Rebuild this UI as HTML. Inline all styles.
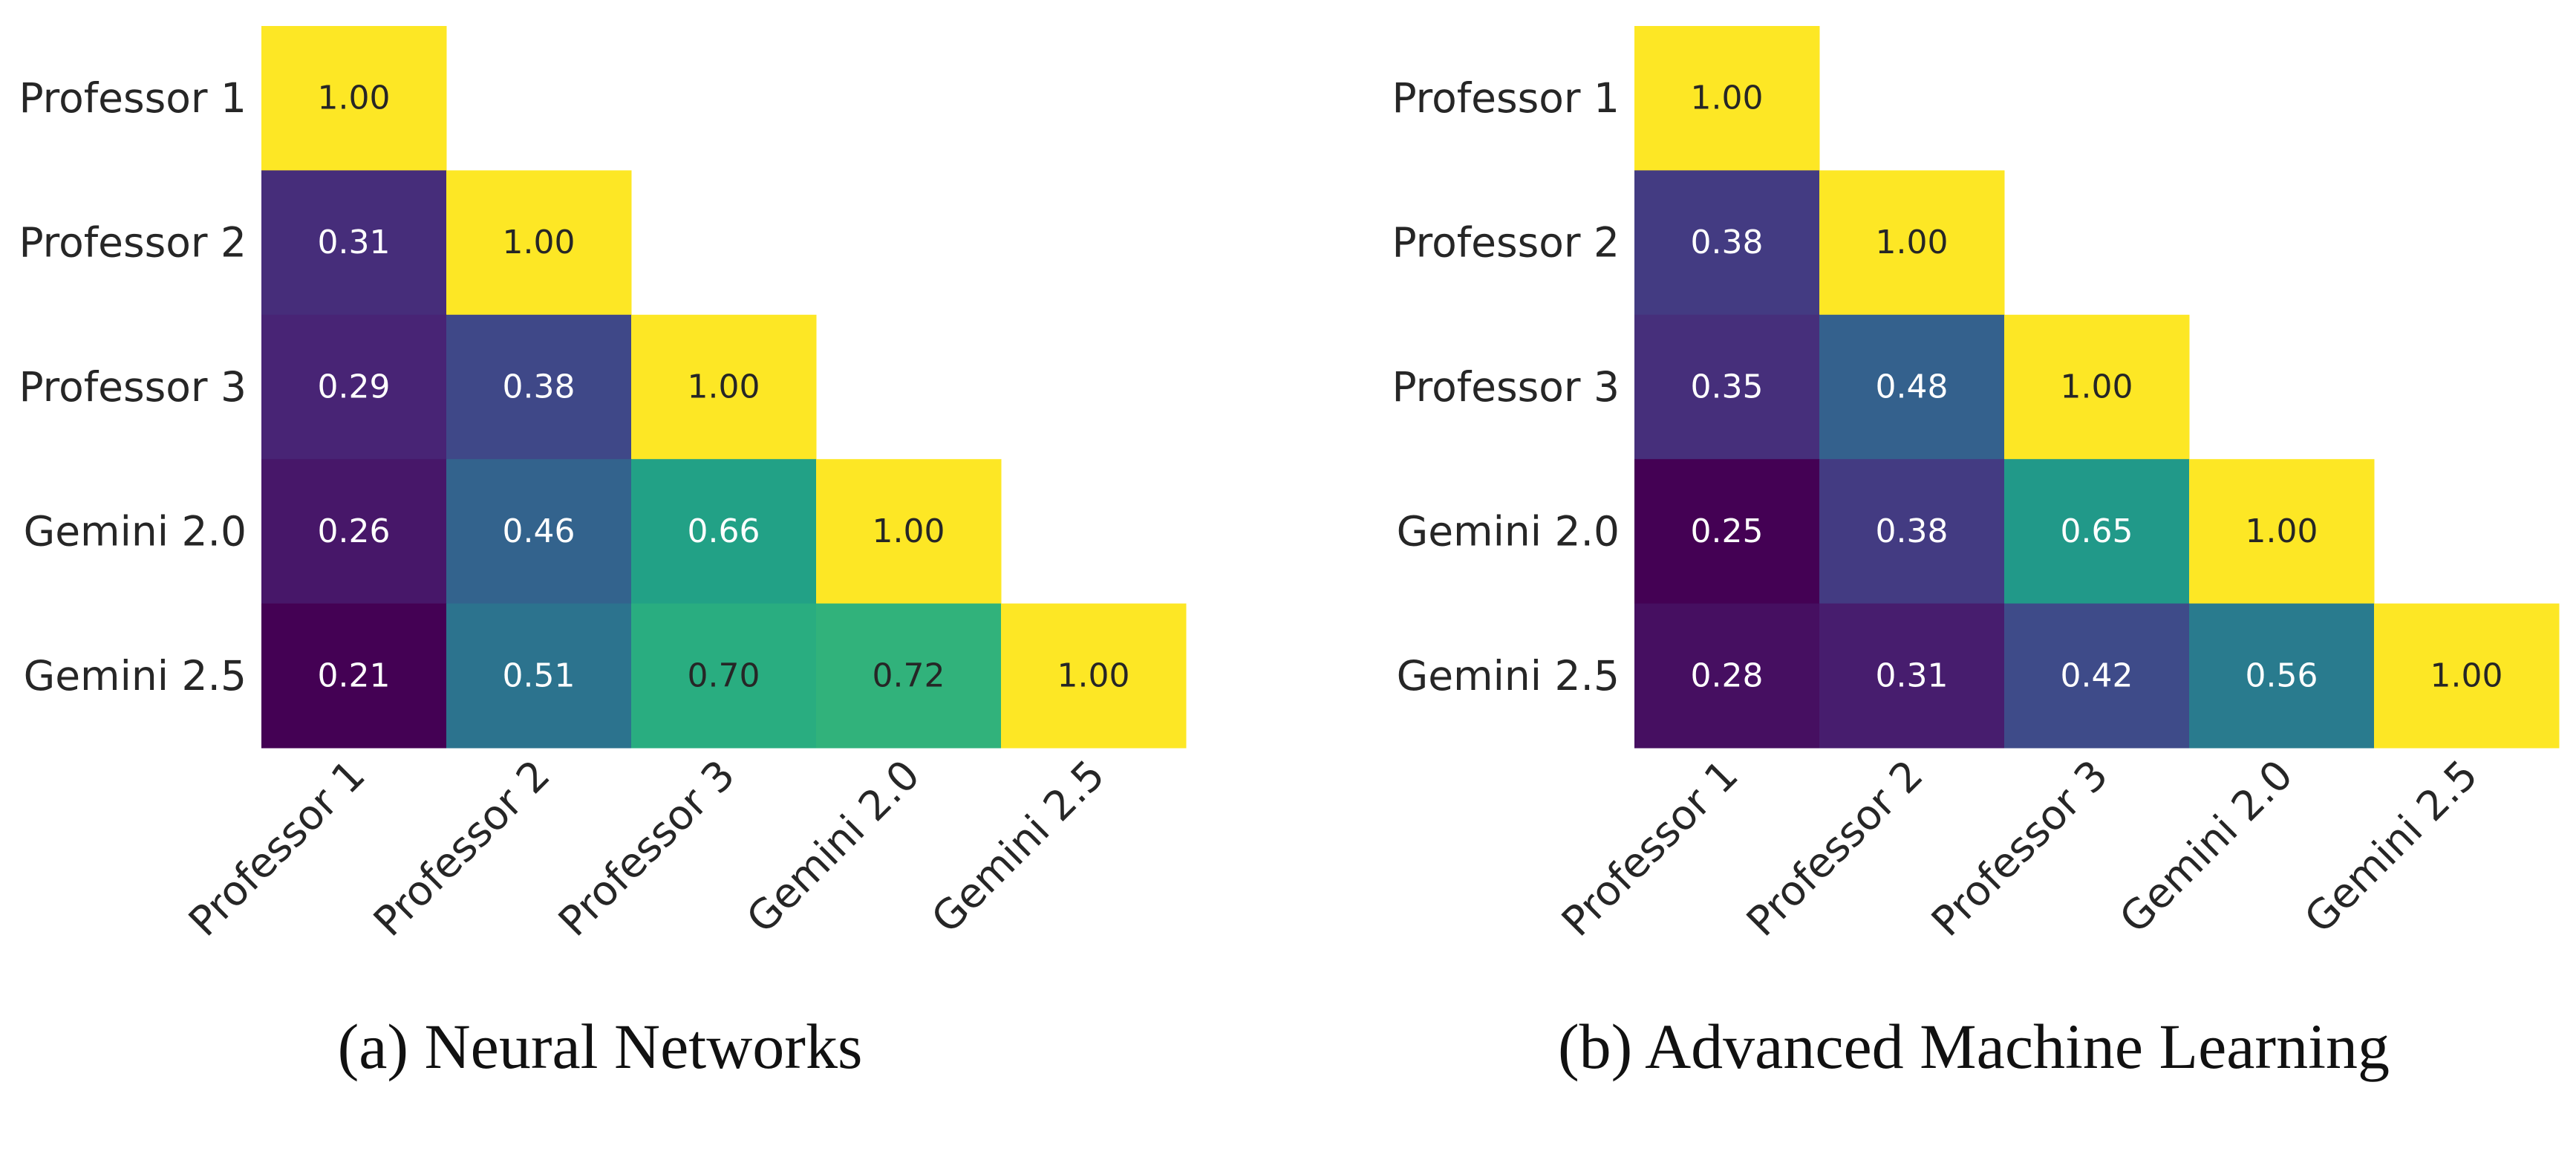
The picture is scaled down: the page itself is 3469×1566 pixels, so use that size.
<!DOCTYPE html>
<html><head><meta charset="utf-8"><style>
html,body{margin:0;padding:0;background:#fff;}
svg{display:block;}
</style></head><body>
<svg id="fig" width="3469" height="1566" viewBox="0 0 3469 1566" xmlns="http://www.w3.org/2000/svg">
<g id="pa"></g>
<g id="pb"></g>
<text x="808" y="1438" text-anchor="middle" font-family="Liberation Serif, serif" font-size="86" fill="#111">(a) Neural Networks</text>
<text x="2658" y="1438" text-anchor="middle" font-family="Liberation Serif, serif" font-size="86" fill="#111">(b) Advanced Machine Learning</text>
</svg>
<script>
const categories = ["Professor 1","Professor 2","Professor 3","Gemini 2.0","Gemini 2.5"];
const valuesA = [
 [1.00],
 [0.31,1.00],
 [0.29,0.38,1.00],
 [0.26,0.46,0.66,1.00],
 [0.21,0.51,0.70,0.72,1.00]
];
const valuesB = [
 [1.00],
 [0.38,1.00],
 [0.35,0.48,1.00],
 [0.25,0.38,0.65,1.00],
 [0.28,0.31,0.42,0.56,1.00]
];
const vir = ["#440154","#482475","#414487","#355f8d","#2a788e","#21918c","#22a884","#44bf70","#7ad151","#bddf26","#fde725"];
function hex(h){return [1,3,5].map(i=>parseInt(h.substr(i,2),16));}
function viridis(t){
  t=Math.max(0,Math.min(1,t));
  const p=t*10,i=Math.min(9,Math.floor(p)),f=p-i;
  const a=hex(vir[i]),b=hex(vir[i+1]);
  const c=a.map((v,k)=>Math.round(v+(b[k]-v)*f));
  return {css:`rgb(${c[0]},${c[1]},${c[2]})`,lum:(0.299*c[0]+0.587*c[1]+0.114*c[2])};
}
const NS="http://www.w3.org/2000/svg";
function draw(gid,vals,x0){
  const g=document.getElementById(gid);
  const y0=35,cw=249,ch=194.4;
  const xs=i=>x0+i*cw, ys=j=>y0+j*ch;
  let mn=Infinity,mx=-Infinity;
  vals.forEach(r=>r.forEach(v=>{mn=Math.min(mn,v);mx=Math.max(mx,v);}));
  vals.forEach((row,j)=>row.forEach((v,i)=>{
    const col=viridis((v-mn)/(mx-mn));
    const r=document.createElementNS(NS,"rect");
    
    
    r.setAttribute("x",xs(i));r.setAttribute("y",ys(j));
    r.setAttribute("width",cw+0.5);r.setAttribute("height",ch+0.5);
    r.setAttribute("fill",col.css);g.appendChild(r);
    const t=document.createElementNS(NS,"text");
    
    
    t.setAttribute("x",xs(i)+cw/2);t.setAttribute("y",ys(j)+ch/2);
    t.setAttribute("text-anchor","middle");t.setAttribute("dominant-baseline","central");
    t.setAttribute("font-family","DejaVu Sans, sans-serif");t.setAttribute("font-size","44");
    t.setAttribute("fill",col.lum>128?"#262626":"#ffffff");
    t.textContent=v.toFixed(2);g.appendChild(t);
  }));
  categories.forEach((c,j)=>{
    const t=document.createElementNS(NS,"text");
    
    
    t.setAttribute("x",x0-20);t.setAttribute("y",ys(j)+ch/2);
    t.setAttribute("text-anchor","end");t.setAttribute("dominant-baseline","central");
    t.setAttribute("font-family","DejaVu Sans, sans-serif");t.setAttribute("font-size","55");
    t.setAttribute("fill","#262626");t.textContent=c;g.appendChild(t);
  });
  categories.forEach((c,i)=>{
    const t=document.createElementNS(NS,"text");
    
    
    const ax=xs(i)+cw/2+18, ay=y0+5*ch+40;
    t.setAttribute("x",ax);t.setAttribute("y",ay);
    t.setAttribute("transform",`rotate(-45 ${ax} ${ay})`);
    t.setAttribute("text-anchor","end");
    t.setAttribute("font-family","DejaVu Sans, sans-serif");t.setAttribute("font-size","55");
    t.setAttribute("fill","#262626");t.textContent=c;g.appendChild(t);
  });
}
draw("pa",valuesA,352);
draw("pb",valuesB,2201);
</script>
</body></html>
